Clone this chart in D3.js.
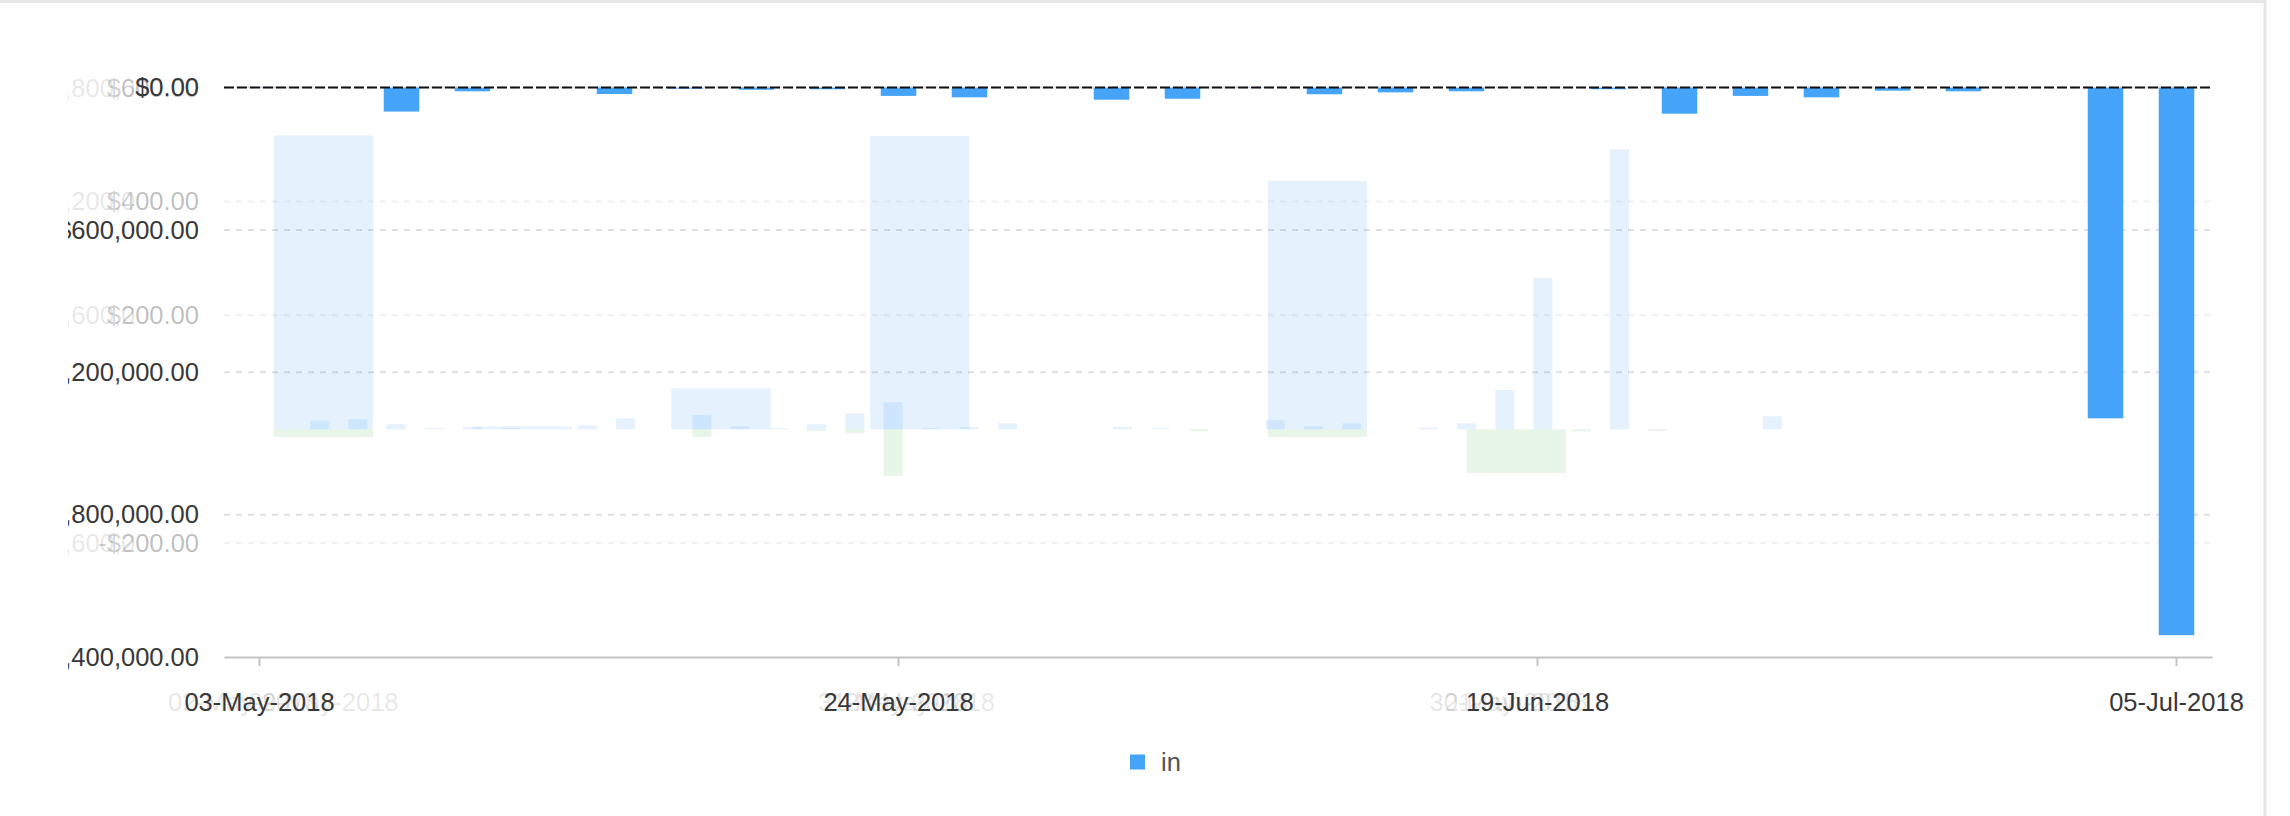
<!DOCTYPE html>
<html>
<head>
<meta charset="utf-8">
<script src="https://cdn.jsdelivr.net/npm/d3@7"></script>
<style>
  html, body { margin: 0; padding: 0; background: #fff; }
  svg { display: block; font-family: "Liberation Sans", Arial, Helvetica, sans-serif; }
</style>
</head>
<body>
<svg id="chart" width="2290" height="816"></svg>
<script>
// ---------- data ----------
const dates = [
  "03-May-2018","04-May-2018","07-May-2018","08-May-2018","10-May-2018","14-May-2018",
  "16-May-2018","18-May-2018","21-May-2018","24-May-2018","25-May-2018","29-May-2018",
  "31-May-2018","01-Jun-2018","05-Jun-2018","07-Jun-2018","11-Jun-2018","14-Jun-2018",
  "19-Jun-2018","20-Jun-2018","21-Jun-2018","22-Jun-2018","25-Jun-2018","26-Jun-2018",
  "27-Jun-2018","29-Jun-2018","03-Jul-2018","05-Jul-2018"
];
const inValues = [
  -1000, 0, -101000, -15600, 0, -27000,
  -4500, -9000, -7000, -35000, -41000, 0,
  -51000, -47000, -1000, -28000, -20000, -15600,
  0, -7000, -110000, -35000, -41000, -13000,
  -15600, 0, -1394000, -2308000
];
const xTickLabels = ["03-May-2018","24-May-2018","19-Jun-2018","05-Jul-2018"];
const yTickValues = [0, -600000, -1200000, -1800000, -2400000];
const seriesName = "in";

// fading (previous-state) marks caught mid-transition
const ghostWideIn  = [516, 5, 72, 515, 0, 436, 0, 0, 0, 0];
const ghostWideOut = [-13.5, 0, 0, 0, 0, -13.5, -77, 0, 0, 0];
const ghostNarrowIn = [
  0, 0, 14.6, 17.6, 8.8, 2.3, 3.5, 2.3, 0, 7,
  19.3, 0, 25, 5.3, 1.8, 8.8, 28, 47.4, 2.3, 3.5,
  10.5, 0, 0, 4, 1.8, 0, 0, 15.8, 5.3, 10.5,
  0, 3, 10.5, 69, 266, 0, 492, 0, 0, 0,
  22.8, 0, 0, 0, 0, 0, 0, 0, 0, 0, 0, 0
];
const ghostNarrowOut = [
  0, 0, 0, 0, 0, 0, 0, 0, 0, 0,
  0, 0, -13.5, 0, 0, -3, -7, -82, 0, 0,
  0, 0, 0, 0, 0, -3.5, 0, 0, 0, 0,
  0, 0, 0, 0, 0, -3.5, 0, -3, 0, 0,
  0, 0, 0, 0, 0, 0, 0, 0, 0, 0, 0, 0
];
const ghostYTickValues = [600, 400, 200, -200];
const ghostYTickLabelsB = ["$1,800,000.00", "$1,200,000.00", "$1,600,000.00", "-$1,600,000.00"];
const ghostXLabelsA = [[0, "02-May-2018"], [17, "31-May-2018"], [33, "30-May-2018"]];
const ghostXLabelsB = [[0, "09-May-2018"], [3, "28-May-2018"], [6, "21-Jun-2018"]];
const ghostXLabelsC = [[25, "24-May-2018"], [50, "05-Jul-2018"]];

// ---------- layout ----------
const W = 2290, H = 816;
const padL = 224, padR = 2212, padT = 87.6, padB = 657;
const blue = "#45a3f8", green = "#66bb6a", textCol = "#383838";
const fs = 25.5;

const svg = d3.select("#chart");

const x = d3.scaleBand().domain(dates).range([padL, padR]).paddingInner(0.5).paddingOuter(0.25);
const y = d3.scaleLinear().domain([-2400000, 0]).range([padB, padT]);
const gy = d3.scaleLinear().domain([-400, 600]).range([padB, padT]);
const gxN = d3.scaleBand().domain(d3.range(52)).range([padL, padR]).paddingInner(0.5).paddingOuter(0.25);
const gxW = d3.scaleBand().domain(d3.range(10)).range([padL, padR]).paddingInner(0.5).paddingOuter(0.25);

const money = d => (d < 0 ? "-" : "") + "$" + d3.format(",.2f")(Math.abs(d));

// page frame
svg.append("line").attr("x1", 0).attr("x2", 2266).attr("y1", 1.5).attr("y2", 1.5)
  .attr("stroke", "#e6e6e6").attr("stroke-width", 3);
svg.append("line").attr("x1", 2265).attr("x2", 2265).attr("y1", 0).attr("y2", H)
  .attr("stroke", "#e6e6e6").attr("stroke-width", 3);

svg.append("defs").append("clipPath").attr("id", "labclip")
  .append("rect").attr("x", 68).attr("y", 0).attr("width", W).attr("height", H);

// ghost grid
svg.append("g").selectAll("line").data(ghostYTickValues.filter(v => v !== 600)).join("line")
  .attr("x1", padL).attr("x2", padR).attr("y1", d => gy(d)).attr("y2", d => gy(d))
  .attr("stroke", "#f1f1f1").attr("stroke-width", 2).attr("stroke-dasharray", "6,6");

// grid
svg.append("g").selectAll("line").data(yTickValues.filter(v => v !== -2400000)).join("line")
  .attr("x1", padL).attr("x2", padR).attr("y1", d => y(d)).attr("y2", d => y(d))
  .attr("stroke", "#e0e0e0").attr("stroke-width", 2).attr("stroke-dasharray", "6,6");

// ghost bars
const gb = svg.append("g").attr("class", "ghost");
function ghostBars(arr, xs, color, op) {
  gb.append("g").selectAll("rect").data(arr.map((v, i) => [i, v]).filter(d => d[1] !== 0)).join("rect")
    .attr("x", d => xs(d[0])).attr("width", xs.bandwidth())
    .attr("y", d => gy(Math.max(0, d[1])))
    .attr("height", d => Math.abs(gy(d[1]) - gy(0)))
    .attr("fill", color).attr("fill-opacity", op);
}
ghostBars(ghostWideIn, gxW, blue, 0.14);
ghostBars(ghostWideOut, gxW, green, 0.15);
ghostBars(ghostNarrowIn, gxN, blue, 0.14);
ghostBars(ghostNarrowOut, gxN, green, 0.15);

// main bars
svg.append("g").selectAll("rect").data(dates.map((d, i) => [d, inValues[i]])).join("rect")
  .attr("x", d => x(d[0])).attr("width", x.bandwidth())
  .attr("y", d => y(Math.max(0, d[1])))
  .attr("height", d => Math.abs(y(d[1]) - y(0)))
  .attr("fill", blue);

// zero line
svg.append("line").attr("x1", padL).attr("x2", padR).attr("y1", y(0)).attr("y2", y(0))
  .attr("stroke", "#111").attr("stroke-width", 2).attr("stroke-dasharray", "10,3");

// y labels (clipped at left)
const yl = svg.append("g").attr("clip-path", "url(#labclip)");
yl.append("g").selectAll("text").data(ghostYTickValues.map((v, i) => [v, ghostYTickLabelsB[i]])).join("text")
  .attr("x", padL - 25).attr("y", d => gy(d[0])).attr("dy", "0.35em")
  .attr("text-anchor", "end").attr("font-size", fs).attr("fill", textCol).attr("fill-opacity", 0.12)
  .text(d => d[1]);
yl.append("g").selectAll("text").data(ghostYTickValues).join("text")
  .attr("x", padL - 25).attr("y", d => gy(d)).attr("dy", "0.35em")
  .attr("text-anchor", "end").attr("font-size", fs).attr("fill", textCol).attr("fill-opacity", 0.24)
  .text(d => money(d));
const yAxis = d3.axisLeft(y).tickValues(yTickValues).tickFormat(money).tickSize(0).tickPadding(25);
const yg = yl.append("g").attr("transform", `translate(${padL},0)`).call(yAxis);
yg.select(".domain").remove();
yg.attr("font-family", null).attr("font-size", null);
yg.selectAll("text").attr("font-size", fs).attr("fill", textCol);

// x axis
const xAxis = d3.axisBottom(x).tickValues(xTickLabels).tickSize(9).tickSizeOuter(0).tickPadding(27);
const xg = svg.append("g").attr("transform", `translate(0,${padB})`).call(xAxis);
xg.attr("font-family", null).attr("font-size", null);
xg.select(".domain").attr("stroke", "#c4c4c4").attr("stroke-width", 2);
xg.selectAll(".tick line").attr("stroke", "#c4c4c4").attr("stroke-width", 2);
xg.selectAll("text").attr("font-size", fs).attr("fill", textCol);

// ghost x labels
function ghostX(list, xs, op) {
  svg.append("g").selectAll("text").data(list).join("text")
    .attr("x", d => xs(d[0]) + xs.bandwidth() / 2).attr("y", padB + 36).attr("dy", "0.71em")
    .attr("text-anchor", "middle").attr("font-size", fs).attr("fill", textCol).attr("fill-opacity", op)
    .text(d => d[1]);
}
ghostX(ghostXLabelsA, gxN, 0.14);
ghostX(ghostXLabelsB, gxW, 0.12);
ghostX(ghostXLabelsC, gxN, 0.025);

// legend
const lg = svg.append("g").attr("transform", `translate(${W / 2 - 15},762)`);
lg.append("rect").attr("x", 0).attr("y", -7.5).attr("width", 15).attr("height", 15).attr("fill", blue);
lg.append("text").attr("x", 31).attr("y", 0).attr("dy", "0.35em").attr("font-size", fs)
  .attr("fill", "#555").text(seriesName);
</script>
</body>
</html>
